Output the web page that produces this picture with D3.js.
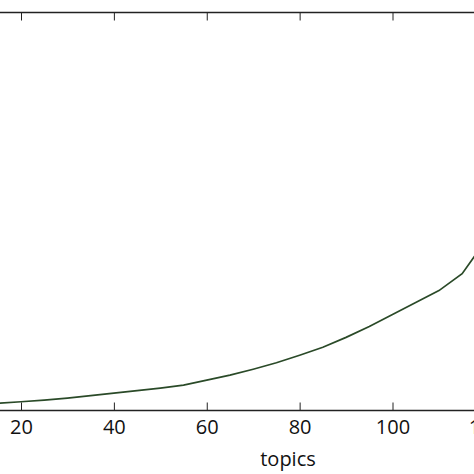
<!DOCTYPE html>
<html><head><meta charset="utf-8">
<script src="https://cdn.jsdelivr.net/npm/d3@7"></script>
<style>body{margin:0;background:#fff}svg{display:block}</style>
</head><body>
<script>
const topics = [15,20,25,30,35,40,45,50,55,60,65,70,75,80,85,90,95,100,105,110,115,120];
const values = [7.2,8.8,10.5,12.5,15,17.5,20,22.5,25.5,30.5,35.5,41.5,48,55.5,63.5,73.5,84.5,96.5,108.5,120.5,137.5,170.5];
const xTicks = [20,40,60,80,100,120];
const xLabel = "topics";

(function(){
const W = 474, H = 474;
const svg = d3.select("body").append("svg").attr("width", W).attr("height", H);
// plot extends beyond the visible window on both sides
const x = d3.scaleLinear().domain([20, 100]).range([21, 392.5]);
const y = d3.scaleLinear().domain([0, 400]).range([410.5, 12.5]);
const left = -60, right = 540;

const g = svg.append("g");
// curve
g.append("path")
  .datum(topics.map((t, i) => [t, values[i]]))
  .attr("fill", "none").attr("stroke", "#2a4a28").attr("stroke-width", 1.7)
  .attr("d", d3.line().x(d => x(d[0])).y(d => y(d[1])));

// bottom axis
const bottomAxis = g.append("g").attr("transform", `translate(0,${y(0)})`)
  .call(d3.axisBottom(x).tickValues(xTicks).tickSizeInner(-8).tickSizeOuter(0).tickPadding(9.5).tickFormat(d3.format("d")));
bottomAxis.select(".domain").remove();
bottomAxis.selectAll(".tick line").attr("stroke", "#222").attr("stroke-width", 1);
bottomAxis.selectAll(".tick text").attr("font-family", "Open Sans").attr("font-size", 20).attr("fill", "#111");
g.append("line").attr("x1", left).attr("x2", right).attr("y1", y(0)).attr("y2", y(0)).attr("stroke", "#222").attr("stroke-width", 1.3);

// top axis
const topAxis = g.append("g").attr("transform", `translate(0,${y(400)})`)
  .call(d3.axisTop(x).tickValues(xTicks).tickSizeInner(-8).tickSizeOuter(0).tickFormat(""));
topAxis.select(".domain").remove();
topAxis.selectAll(".tick line").attr("stroke", "#222").attr("stroke-width", 1);
g.append("line").attr("x1", left).attr("x2", right).attr("y1", y(400)).attr("y2", y(400)).attr("stroke", "#222").attr("stroke-width", 1.3);

// x label
svg.append("text").attr("x", 288).attr("y", 466).attr("text-anchor", "middle")
  .attr("font-family", "Open Sans").attr("font-size", 20).attr("fill", "#111").text(xLabel);
})();
</script>
</body></html>
